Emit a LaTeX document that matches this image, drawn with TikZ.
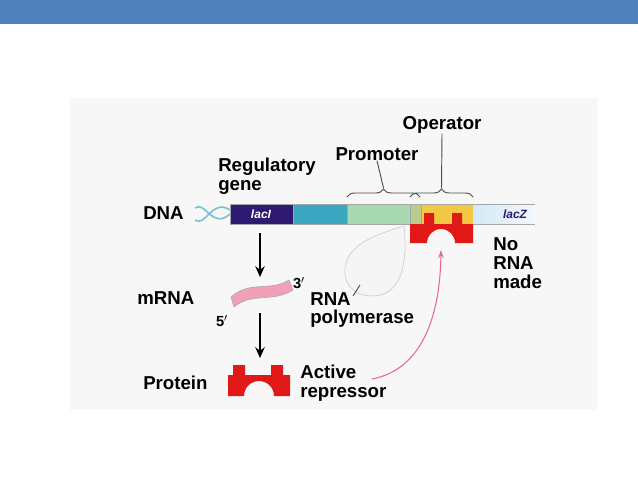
\documentclass[tikz,border=0pt]{standalone}
\usepackage{fontspec}
\setmainfont{Liberation Sans}
\usetikzlibrary{decorations.pathreplacing,arrows.meta}
\definecolor{banner}{HTML}{4F81BD}
\definecolor{laci}{HTML}{2E1A70}
\definecolor{teal2}{HTML}{3AA6C0}
\definecolor{prom}{HTML}{A9D9B2}
\definecolor{olive}{HTML}{B8CC8C}
\definecolor{oper}{HTML}{F5C844}
\definecolor{lacz}{HTML}{D2E9F6}
\definecolor{rep}{HTML}{E01818}
\definecolor{mrna}{HTML}{F2A0B8}
\definecolor{pinkarr}{HTML}{E86A90}
\begin{document}
\begin{tikzpicture}[x=0.75pt,y=-0.75pt,
  lbl/.style={font=\fontsize{14}{16}\selectfont\bfseries,inner sep=0pt,align=left,anchor=west},
  small/.style={font=\fontsize{9}{10}\selectfont\bfseries\itshape,inner sep=0pt},
  seg/.style={draw=gray!70,line width=0.4pt},
  brc/.style={draw=black!70,line width=0.7pt,decorate,decoration={brace,amplitude=6pt}},
  darr/.style={-{Stealth[length=8pt,width=7pt]},line width=1.6pt}]
\useasboundingbox (0,0) rectangle (638,478);
\fill[white] (0,0) rectangle (638,478);
\fill[banner] (0,0) rectangle (638,24);
\fill[black!3] (70,98) rectangle (598,410);
% DNA helix
\draw[teal2!70,line width=1.2pt] (195,208) .. controls (205,200) and (212,230) .. (230,214);
\draw[teal2!70,line width=1.2pt] (195,220) .. controls (205,228) and (212,198) .. (230,210);
% segments
\fill[seg,fill=laci] (230,204) rectangle (293,224);
\fill[seg,fill=teal2] (293,204) rectangle (347,224);
\fill[seg,fill=prom] (347,204) rectangle (410,224);
\fill[seg,fill=olive] (410,204) rectangle (421,224);
\fill[seg,fill=oper] (421,204) rectangle (473,224);
\shade[left color=lacz,right color=lacz!30] (473,204) rectangle (535,224);
\draw[gray!70] (473,204) -- (535,204) (473,224) -- (535,224);
\node[small,text=white] (laciT) at (261,214) {lacI};
\node[small,text=laci] (laczT) at (515,214) {lacZ};
% operator repressor
\fill[rep] (410,224) -- (424,224) -- (424,213) -- (434,213) -- (434,224) -- (452,224) -- (452,213) -- (462,213) -- (462,224) -- (473,224) -- (473,243) -- (455,243) arc[start angle=0,end angle=-180,radius=14] -- (410,243) -- cycle;
% braces
\coordinate (pb1) at (347,197); \coordinate (pb2) at (420,197);
\coordinate (ob1) at (410,197); \coordinate (ob2) at (473,197);
\draw[brc] (pb1) -- (pb2);
\draw[brc] (ob1) -- (ob2);
\node[lbl,anchor=center] (promT) at (377,154) {Promoter};
\node[lbl,anchor=center] (operT) at (442,125) {Operator};
\draw[black!70,line width=0.7pt] (383.5,188) -- (promT.south);
\draw[black!70,line width=0.7pt] (441.5,188) -- (operT.south);
% labels
\node[lbl] (regT) at (218,176) {Regulatory\\[-2pt]gene};
\node[lbl] (dnaT) at (143,213) {DNA};
\node[lbl] (mrnaT) at (137,298) {mRNA};
\node[lbl] (protT) at (143,383) {Protein};
\node[lbl] (polT) at (310,310) {RNA\\[-2pt]polymerase};
\node[lbl] (actT) at (300,383) {Active\\[-2pt]repressor};
\node[lbl] (noT) at (493,263) {No\\[-2pt]RNA\\[-2pt]made};
\node[font=\fontsize{11}{12}\selectfont\bfseries,inner sep=0pt] (p3) at (299,283) {3$'$};
\node[font=\fontsize{11}{12}\selectfont\bfseries,inner sep=0pt] (p5) at (222,321) {5$'$};
% polymerase
\fill[gray!8,draw=gray!45] (404,226) .. controls (408,262) and (402,296) .. (372,296) .. controls (350,296) and (340,278) .. (347,260) .. controls (355,240) and (385,232) .. (404,226) -- cycle;
\coordinate (polA) at (360,285);
\draw[gray!60!black,line width=0.7pt] (polA) -- (353,296);
% mRNA
\fill[mrna,draw=gray!70] (231,297) .. controls (250,280) and (270,292) .. (289,280) -- (293,290) .. controls (272,303) and (252,292) .. (234,307) -- cycle;
% arrows
\coordinate (a1s) at (260,233); \coordinate (a1e) at (260,277);
\coordinate (a2s) at (260,313); \coordinate (a2e) at (260,358);
\draw[darr] (a1s) -- (a1e);
\draw[darr] (a2s) -- (a2e);
% protein repressor
\fill[rep] (228,375) -- (233,375) -- (233,365) -- (245,365) -- (245,375) -- (271,375) -- (271,365) -- (283,365) -- (283,375) -- (290,375) -- (290,396) -- (274,396) arc[start angle=0,end angle=-180,radius=15] -- (228,396) -- cycle;
% pink arrow
\coordinate (pa) at (441,250);
\coordinate (pk) at (372,379);
\draw[pinkarr,line width=0.8pt,-{Stealth[length=6pt,width=4pt]}] (pk) .. controls (420,370) and (440,320) .. (pa);
\end{tikzpicture}
\end{document}
